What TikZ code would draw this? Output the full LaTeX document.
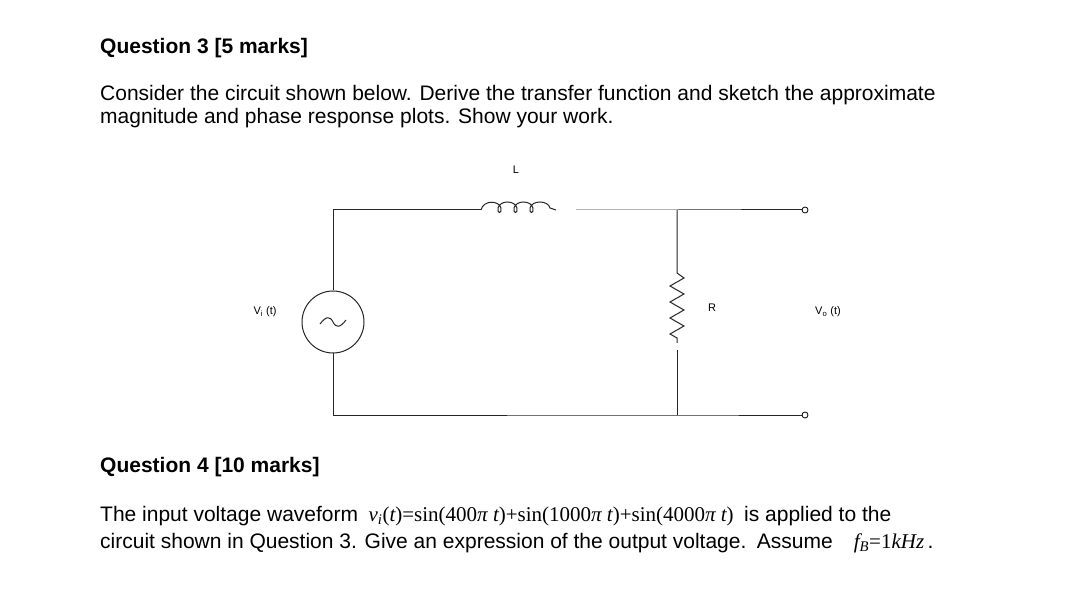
\documentclass[tikz,border=0pt]{standalone}
\usepackage{fontspec}
\setmainfont{Liberation Sans}
\newfontfamily\mathserif{Liberation Serif}
\begin{document}
\begin{tikzpicture}[x=1pt,y=-1pt,
  wire/.style={line width=1pt,black!85},
  lbl/.style={font=\fontsize{11}{12}\selectfont,inner sep=0pt},
  txt/.style={font=\fontsize{21}{28}\selectfont,anchor=west,inner sep=0pt,align=left}]
\useasboundingbox (0,0) rectangle (1080,604);
\node[txt,font=\bfseries\fontsize{21}{28}\selectfont] (q3) at (100,48) {Question 3 [5 marks]};
\node[txt,anchor=north west] (p3) at (100,85) {Consider the circuit shown below. Derive the transfer function and sketch the approximate\\[-5pt]magnitude and phase response plots. Show your work.};
% circuit
\coordinate (tl) at (333,210);
\coordinate (bl) at (333,415);
\coordinate (j) at (677,210);
\coordinate (jb) at (677,415);
\coordinate (to) at (802,210);
\coordinate (bo) at (802,415);
\node[circle,draw,line width=0.8pt,minimum size=6pt,inner sep=0pt] (tc) at (805,210) {};
\node[circle,draw,line width=0.8pt,minimum size=6pt,inner sep=0pt] (bc) at (805,415) {};
\node[circle,draw,wire,minimum size=62pt,inner sep=0pt] (src) at (333,322) {};
\begin{scope}[shift={(333,322)}]
\draw[wire] (-13,2) .. controls (-7,-6) and (-3,-6) .. (0,0) .. controls (3,6) and (7,6) .. (13,-2);
\end{scope}
\draw[wire] (tl) -- (src.north);
\draw[wire] (src.south) -- (bl) -- (jb) -- (bo);
\coordinate (la) at (481,210);
\coordinate (lb) at (556,210);
\coordinate (lc) at (576,210);
\draw[wire] (tl) -- (la);
\draw[wire] (la) .. controls (483,200) and (499,200) .. (501,208)
  .. controls (502,214) and (497,214) .. (498,208)
  .. controls (500,200) and (515,200) .. (517,208)
  .. controls (518,214) and (513,214) .. (514,208)
  .. controls (516,200) and (531,200) .. (533,208)
  .. controls (534,214) and (529,214) .. (530,208)
  .. controls (532,200) and (548,200) .. (550,208) -- (lb);
\draw[wire] (lc) -- (j) -- (to);
\coordinate (ra) at (677,273);
\coordinate (rb) at (677,338);
\draw[wire] (j) -- (ra) -- (684,278) -- (670,286) -- (684,294) -- (670,302) -- (684,310) -- (670,318) -- (684,326) -- (670,334) -- (rb) -- (677,343);
\draw[wire] (677,350) -- (jb);
\node[lbl] (lL) at (516,170) {L};
\node[lbl] (lR) at (712,308) {R};
\node[lbl] (lvi) at (265,312) {V\textsubscript{i} (t)};
\node[lbl] (lvo) at (828,312) {V\textsubscript{o} (t)};
% Q4
\node[txt,font=\bfseries\fontsize{21}{28}\selectfont] (q4) at (100,467) {Question 4 [10 marks]};
\node[txt] (l1) at (100,516) {The input voltage waveform\enspace {\mathserif\itshape v\textsubscript{i}\upshape(\itshape t\upshape)=sin(400\itshape π t\upshape)+sin(1000\itshape π t\upshape)+sin(4000\itshape π t\upshape)}\enspace is applied to the};
\node[txt] (l2) at (100,543) {circuit shown in Question 3. Give an expression of the output voltage.\enspace Assume\enspace\enspace {\mathserif\itshape f\textsubscript{B}\upshape=1\itshape kHz}\,.};
\end{tikzpicture}
\end{document}
